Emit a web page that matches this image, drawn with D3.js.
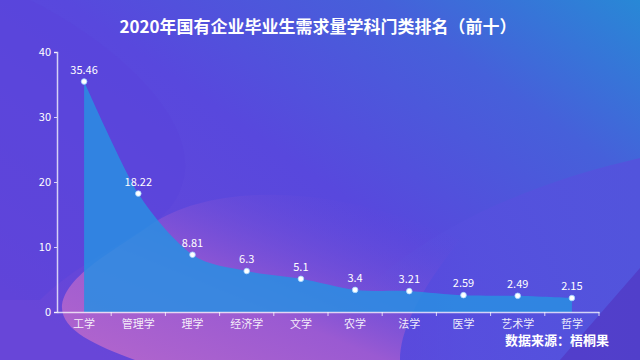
<!DOCTYPE html>
<html><head><meta charset="utf-8">
<script src="https://cdn.jsdelivr.net/npm/d3@7/dist/d3.min.js"></script>
<style>html,body{margin:0;padding:0;background:#5a48dc;}svg{display:block;font-family:"Noto Sans CJK SC","Noto Sans",sans-serif;}</style>
</head><body>
<svg id="c" width="640" height="360"></svg>
<script>
const categories = ["工学","管理学","理学","经济学","文学","农学","法学","医学","艺术学","哲学"];
const values = [35.46,18.22,8.81,6.3,5.1,3.4,3.21,2.59,2.49,2.15];
const yTicks = [0,10,20,30,40];
const title = "2020年国有企业毕业生需求量学科门类排名（前十）";
const source = "数据来源：梧桐果";

const svg = d3.select("#c");
const W = 640, H = 360;
const defs = svg.append("defs");
const bg = defs.append("linearGradient").attr("id","bg").attr("x1","0").attr("y1","0.8").attr("x2","1").attr("y2","0");
bg.append("stop").attr("offset","0").attr("stop-color","#6846d8");
bg.append("stop").attr("offset","0.45").attr("stop-color","#5848dd");
bg.append("stop").attr("offset","0.75").attr("stop-color","#4660da");
bg.append("stop").attr("offset","1").attr("stop-color","#2888d6");
svg.append("rect").attr("width",W).attr("height",H).attr("fill","url(#bg)");

// lower-right purple plane
const lr = defs.append("linearGradient").attr("id","lr").attr("x1","0").attr("y1","0").attr("x2","1").attr("y2","0");
lr.append("stop").attr("offset","0").attr("stop-color","#5848dd").attr("stop-opacity",0);
lr.append("stop").attr("offset","0.5").attr("stop-color","#5650de").attr("stop-opacity",0.8);
lr.append("stop").attr("offset","1").attr("stop-color","#5254dc").attr("stop-opacity",1);
svg.append("path").attr("d","M300,360 C380,250 500,190 640,158 L640,360 Z").attr("fill","url(#lr)");

// upper-left dark blob
svg.append("path").attr("d","M30,0 C110,40 190,110 185,170 C182,200 165,215 150,225 C110,250 70,270 40,300 L0,300 L0,0 Z")
  .attr("fill","#5a44da").attr("opacity",0.55);

// pink blob
const pk = defs.append("linearGradient").attr("id","pk").attr("x1","0").attr("y1","1").attr("x2","0.9").attr("y2","0.1");
pk.append("stop").attr("offset","0").attr("stop-color","#b466cc");
pk.append("stop").attr("offset","0.45").attr("stop-color","#9a5ad2");
pk.append("stop").attr("offset","1").attr("stop-color","#5a48dc").attr("stop-opacity",0);
svg.append("path").attr("d","M62,305 C66,275 115,250 152,224 C210,185 330,180 460,240 C420,290 400,330 400,360 L135,360 C95,345 60,330 62,305 Z")
  .attr("fill","url(#pk)");

// bottom-right dark triangle
svg.append("path").attr("d","M560,360 L640,268 L640,360 Z").attr("fill","#5238c4").attr("opacity",0.75);

const x = d3.scaleBand().domain(categories).range([57,599]);
const y = d3.scaleLinear().domain([0,40]).range([312,52]);
const cx = d => x(d) + x.bandwidth()/2;

const data = categories.map((c,i)=>({c, v: values[i]}));
const area = d3.area().x(d=>cx(d.c)).y0(y(0)).y1(d=>y(d.v)).curve(d3.curveCardinal.tension(0.15));
svg.append("path").datum(data).attr("d",area).attr("fill","#2a8ee2").attr("opacity",0.86);

// axes
const axisColor = "rgba(255,255,255,0.75)";
const ya = svg.append("g").attr("transform","translate(57,0)").call(d3.axisLeft(y).tickValues(yTicks).tickSize(3).tickPadding(3));
const xa = svg.append("g").attr("transform","translate(0,312)").call(d3.axisBottom(x).tickSize(0).tickPadding(8));
[ya,xa].forEach(g=>{
  g.select(".domain").attr("stroke",axisColor).attr("stroke-width",1.5);
  g.selectAll(".tick line").attr("stroke",axisColor);
  g.selectAll("text").attr("fill","#ffffff").attr("font-size",11).attr("font-family","'Noto Sans CJK SC',sans-serif");
});
xa.selectAll(".tick text").attr("dy","0.75em").attr("fill","rgba(255,255,255,0.9)");
xa.selectAll(".bt").data(categories.slice(1).concat(["__end"])).enter().append("line")
  .attr("x1",d=> d==="__end" ? 599 : x(d)).attr("x2",d=> d==="__end" ? 599 : x(d))
  .attr("y1",0).attr("y2",4).attr("stroke",axisColor);

// points & labels
svg.append("g").selectAll("circle").data(data).enter().append("circle")
  .attr("cx",d=>cx(d.c)).attr("cy",d=>y(d.v)).attr("r",2.8)
  .attr("fill","#ffffff").attr("stroke","#9fd4ff").attr("stroke-width",0.8);
svg.append("g").selectAll("text").data(data).enter().append("text")
  .attr("x",d=>cx(d.c)).attr("y",d=>y(d.v)-8).attr("text-anchor","middle")
  .attr("fill","#ffffff").attr("font-size",11).text(d=>d.v);

svg.append("text").attr("x",318).attr("y",33).attr("text-anchor","middle")
  .attr("fill","#ffffff").attr("font-size",17).attr("font-weight","bold").text(title);
svg.append("text").attr("x",609).attr("y",345).attr("text-anchor","end")
  .attr("fill","#ffffff").attr("font-size",13).attr("font-weight","bold").text(source);
</script>
</body></html>
